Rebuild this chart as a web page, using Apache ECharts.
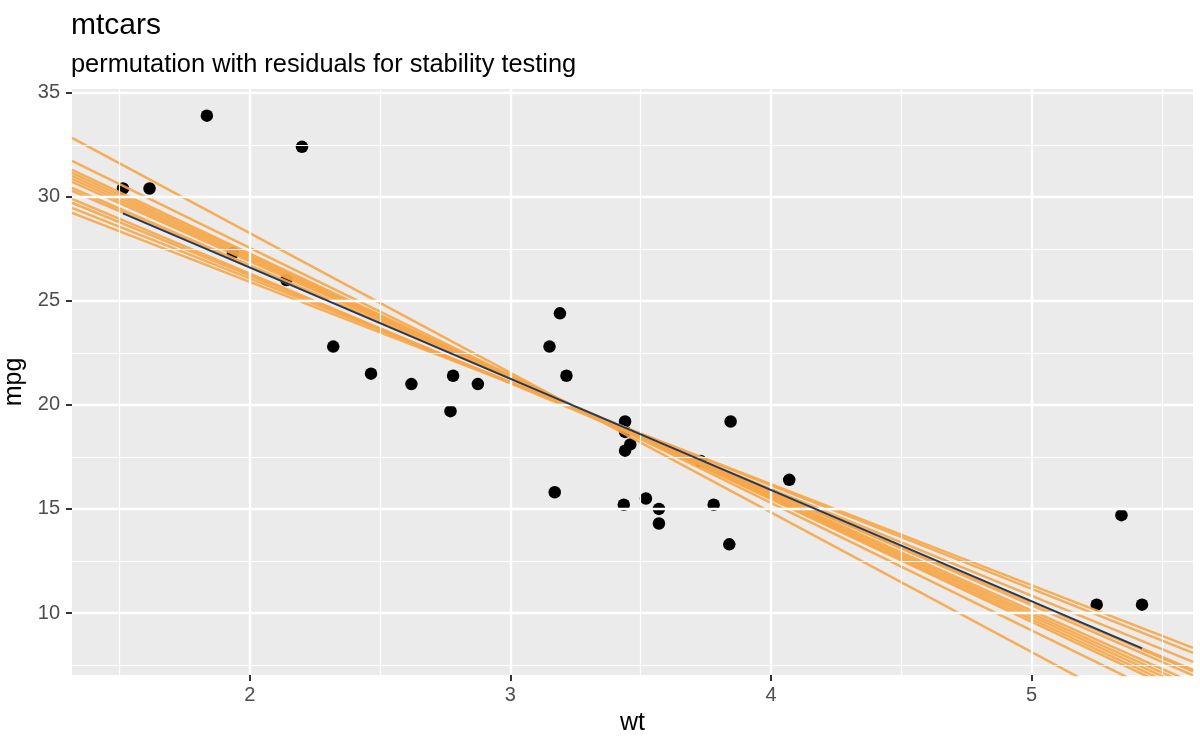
<!DOCTYPE html>
<html><head><meta charset="utf-8">
<script src="https://cdn.jsdelivr.net/npm/echarts@6/dist/echarts.min.js"></script>
<style>html,body{margin:0;padding:0;background:#fff}#c{width:1200px;height:742px}</style>
</head><body><div id="c"></div>
<script>
// mtcars data: weight (1000 lbs) and miles per gallon
const wt  = [2.620,2.875,2.320,3.215,3.440,3.460,3.570,3.190,3.150,3.440,3.440,4.070,3.730,3.780,5.250,5.424,5.345,2.200,1.615,1.835,2.465,3.520,3.435,3.840,3.845,1.935,2.140,1.513,3.170,2.770,3.570,2.780];
const mpg = [21.0,21.0,22.8,21.4,18.7,18.1,14.3,24.4,22.8,19.2,17.8,16.4,17.3,15.2,10.4,10.4,14.7,32.4,30.4,33.9,21.5,15.5,15.2,13.3,19.2,27.3,26.0,30.4,15.8,19.7,15.0,21.4];
// permutation refits (intercept, slope)
const permIntercepts = [41.67,39.80,39.07,38.82,38.58,38.33,38.09,37.60,37.36,36.83,36.47,36.02,35.63];
const permSlopes     = [-6.709,-6.127,-5.899,-5.823,-5.747,-5.671,-5.595,-5.444,-5.367,-5.262,-5.129,-4.971,-4.859];
// original lm fit
const fitIntercept = 37.285;
const fitSlope = -5.344;
// axes
const xTicks = [2,3,4,5];
const xMinor = [1.5,2.5,3.5,4.5,5.5];
const yTicks = [10,15,20,25,30,35];
const yMinor = [7.5,12.5,17.5,22.5,27.5,32.5];
const X_MIN = 1.3174, X_MAX = 5.6196, Y_MIN = 7.02, Y_MAX = 35.18;

const chart = echarts.init(document.getElementById('c'), null, {renderer:'canvas'});

const gridLines = [];
xMinor.forEach(v => gridLines.push({xAxis:v, lineStyle:{color:'#fff', width:1.2, type:'solid'}}));
yMinor.forEach(v => gridLines.push({yAxis:v, lineStyle:{color:'#fff', width:1.2, type:'solid'}}));
xTicks.forEach(v => gridLines.push({xAxis:v, lineStyle:{color:'#fff', width:2.4, type:'solid'}}));
yTicks.forEach(v => gridLines.push({yAxis:v, lineStyle:{color:'#fff', width:2.4, type:'solid'}}));

const FONT = 'Liberation Sans, Arial, sans-serif';
const series = [{
  type:'scatter', data:[], z:1, silent:true,
  markLine:{silent:true, symbol:'none', label:{show:false}, animation:false, data:gridLines}
},{
  type:'scatter', z:2, symbolSize:12.5, itemStyle:{color:'#000', opacity:1},
  data: wt.map((w,i)=>[w, mpg[i]])
},{
  type:'line', z:5, showSymbol:false, symbol:'none',
  lineStyle:{color:'#1d3b66', width:2},
  data: [[Math.min(...wt), fitIntercept + fitSlope*Math.min(...wt)],
         [Math.max(...wt), fitIntercept + fitSlope*Math.max(...wt)]]
}];
permIntercepts.forEach((a,i)=>{
  const b = permSlopes[i];
  series.push({
    type:'line', z:4, showSymbol:false, symbol:'none', clip:true,
    lineStyle:{color:'#f7a648', width:2.5, opacity:0.9},
    data:[[X_MIN, a + b*X_MIN],[X_MAX, a + b*X_MAX]]
  });
});

chart.setOption({
  animation:false,
  backgroundColor:'#fff',
  title:[
    {text:'mtcars', left:66, top:6, textStyle:{fontSize:30, fontWeight:'normal', color:'#000', fontFamily:FONT}},
    {text:'permutation with residuals for stability testing', left:66, top:47, textStyle:{fontSize:25.4, fontWeight:'normal', color:'#000', fontFamily:FONT}}
  ],
  grid:{left:72, right:7, top:89, bottom:67, show:true, backgroundColor:'#EBEBEB', borderWidth:0, containLabel:false, outerBoundsMode:'none'},
  xAxis:{
    type:'value', min:X_MIN, max:X_MAX,
    name:'wt', nameLocation:'middle', nameGap:36,
    nameTextStyle:{fontSize:25, color:'#000', fontFamily:FONT},
    axisLine:{show:false},
    axisTick:{show:true, length:6, customValues:xTicks, lineStyle:{color:'#333', width:2}},
    axisLabel:{customValues:xTicks, margin:10, fontSize:20, color:'#4d4d4d', fontFamily:FONT},
    splitLine:{show:false}
  },
  yAxis:{
    type:'value', min:Y_MIN, max:Y_MAX,
    name:'mpg', nameLocation:'middle', nameGap:40, nameRotate:90,
    nameTextStyle:{fontSize:25, color:'#000', fontFamily:FONT},
    axisLine:{show:false},
    axisTick:{show:true, length:6, customValues:yTicks, lineStyle:{color:'#333', width:2}},
    axisLabel:{customValues:yTicks, margin:12, fontSize:20, color:'#4d4d4d', fontFamily:FONT},
    splitLine:{show:false}
  },
  series: series
});
</script>
</body></html>
